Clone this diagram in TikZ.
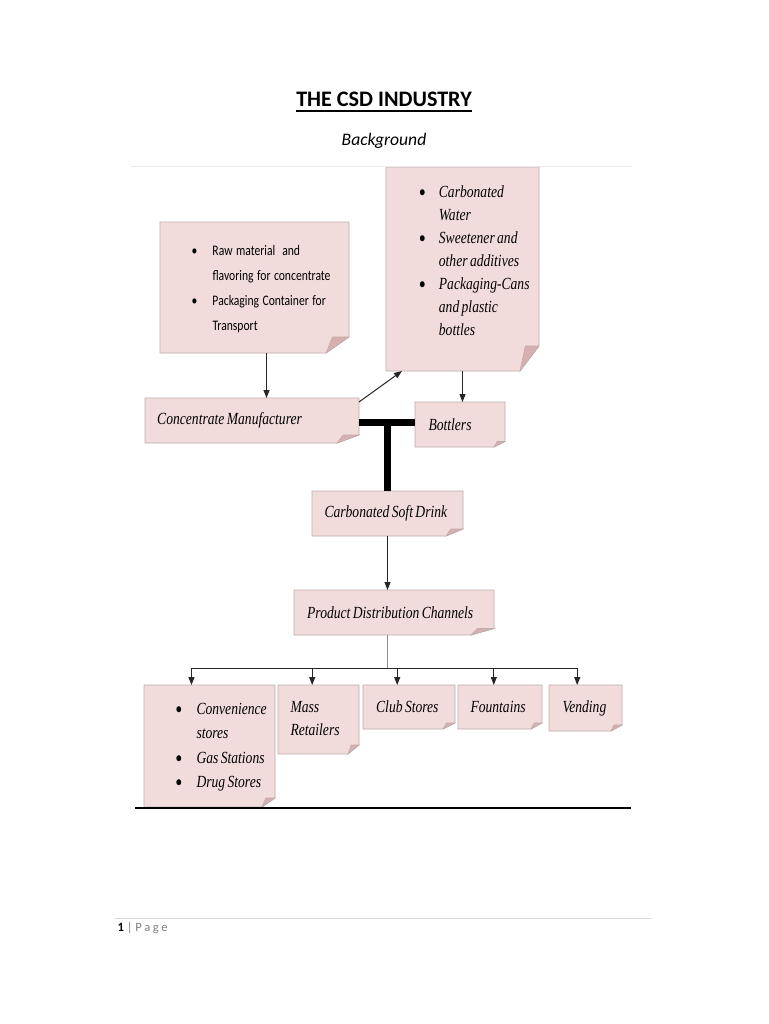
\documentclass[tikz,border=0pt]{standalone}
\usepackage{fontspec}
\setmainfont{Carlito}
\newfontfamily\notesans[FakeStretch=0.8]{Carlito}
\newfontfamily\noteserif[FakeStretch=0.8]{Liberation Serif}
\usetikzlibrary{arrows.meta,calc,backgrounds}

\definecolor{notefill}{RGB}{242,220,219}
\definecolor{notefold}{RGB}{214,176,176}
\definecolor{noteline}{RGB}{190,172,172}
\definecolor{pagegray}{RGB}{128,128,128}

\newcommand{\bul}{\makebox[6pt]{\notesans\textbullet}}
\newcommand{\notegap}[2][1.8pt]{\noindent\spaceskip=#1 plus 0.5pt\relax\hspace*{#2}}

\tikzset{every picture/.style={line width=0.75pt}}
\tikzset{
  note/.style={anchor=north west, inner sep=0pt, text width=#1},
  sanstext/.style={font={\notesans\fontsize{10.9}{#1}\selectfont}},
  sanstext/.default=18.75,
  seriftext/.style={font={\noteserif\itshape\fontsize{12.75}{#1}\selectfont}},
  seriftext/.default=17.5,
  notebody/.style={draw=noteline, fill=notefill, line width=0.6pt},
  notecurl/.style={draw=noteline, fill=notefold, line width=0.4pt},
  link/.style={draw=black!85, -{Triangle[length=6pt,width=4.5pt]}},
  bar/.style={draw=black, line width=5.25pt},
}

\begin{document}
\begin{tikzpicture}[x=0.75pt,y=0.75pt,yscale=-1,xscale=1]
\useasboundingbox (0,0) rectangle (768,1024);

% Title
\node[inner sep=0pt, anchor=base, font={\bfseries\fontsize{16.6}{20}\selectfont}] (title) at (384,106) {THE CSD INDUSTRY};
\draw[line width=1.4pt] ($(title.south west)+(0,4.7)$) -- ($(title.south east)+(0,4.7)$);
\node[inner sep=0pt, font={\itshape\fontsize{13.2}{16}\selectfont}] (subtitle) at (384,141) {Background};
\draw[black!8, line width=0.6pt] (131,166) -- (632,166);

% Inputs
\node[note=141pt, minimum height=97.5pt, sanstext] (raw) at (160,222) {\notegap[2.6pt]{22.5pt}\begin{tabular}{@{}l@{\hspace{10.5pt}}l@{}}
  \bul & Raw material\ \ and\\
       & flavoring for concentrate\\
  \bul & Packaging Container for\\
       & Transport
  \end{tabular}};
\node[note=114pt, minimum height=152.25pt, seriftext=17.25] (water) at (386,167) {\notegap{23.8pt}\begin{tabular}{@{}l@{\hspace{9.5pt}}l@{}}
  \bul & Carbonated\\
       & Water\\
  \bul & Sweetener and\\
       & other additives\\
  \bul & Packaging-Cans\\
       & and plastic\\
       & bottles\\[11pt]
  \end{tabular}};

% Makers
\node[note=159.75pt, minimum height=33pt, seriftext] (conc) at (145,398) {\notegap{8.8pt}Concentrate Manufacturer};
\node[note=66.75pt, minimum height=33pt, seriftext] (bott) at (415,402) {\notegap{9.75pt}Bottlers};
\node[note=112.5pt, minimum height=33pt, seriftext] (csd) at (312,491) {\notegap{9pt}Carbonated Soft Drink};
\node[note=149.25pt, minimum height=33pt, seriftext] (pdc) at (294,590) {\notegap{9.5pt}Product Distribution Channels};

% Channels
\node[note=97.5pt, minimum height=90.75pt, seriftext=18.4] (conv) at (144,685) {\notegap{22.7pt}\begin{tabular}{@{}l@{\hspace{10.3pt}}l@{}}
  \bul & Convenience\\
       & stores\\
  \bul & Gas Stations\\
  \bul & Drug Stores
  \end{tabular}};
\node[note=60pt, minimum height=51pt, seriftext] (mass) at (278,685) {\notegap{9pt}\begin{tabular}{@{}l@{}}Mass\\ Retailers\end{tabular}};
\node[note=68.25pt, minimum height=32.25pt, seriftext] (club) at (363,685) {\notegap{9.5pt}Club Stores};
\node[note=62.25pt, minimum height=32.25pt, seriftext] (foun) at (458,685) {\notegap{9pt}Fountains};
\node[note=54pt, minimum height=33.75pt, seriftext] (vend) at (549,685) {\notegap{9.75pt}Vending};

% Folded notes
\begin{scope}[on background layer]
\fill[white] (0,0) rectangle (768,1024);
\foreach \n/\fw/\fh in {raw/23/16, water/19/25, conc/22/8, bott/11/5.5, csd/17/7, pdc/23/6.5,
                        conv/13/9, mass/11/9, club/12/6, foun/11/6, vend/11/6} {
  \draw[notebody] (\n.north west) -- (\n.north east) -- ($(\n.south east)+(0,-\fh)$)
    -- ($(\n.south east)+(-\fw,0)$) -- (\n.south west) -- cycle;
  \draw[notecurl] ($(\n.south east)+(-\fw,0)$) .. controls ($(\n.south east)+(-0.88*\fw,-0.5*\fh)$)
    .. ($(\n.south east)+(-0.72*\fw,-\fh)$) -- ($(\n.south east)+(0,-\fh)$) -- cycle;
}
\end{scope}

% Connectors
\draw[link] ($(raw.south)+(12,0)$) coordinate (rawout) -- (rawout |- conc.north);
\draw[link] ($(conc.north east)+(0,4)$) -- ($(water.south west)+(16,0)$);
\draw[link] (water.south) -- (water.south |- bott.north);
\draw[bar] ($(conc.east)+(0,2)$) -- ($(bott.west)+(0,-2)$);
\draw[bar] (csd.north) -- (csd.north |- conc.east);
\draw[link] (csd.south) -- (csd.south |- pdc.north);
\draw[black!45] (csd.south |- pdc.south) -- ++(0,33) coordinate (hub);
\foreach \n/\dx in {conv/-18, mass/-6.3, club/-11.8, foun/-6.2, vend/-8.3} {
  \coordinate (\n-in) at ($(\n.north)+(\dx,0)$);
  \draw[link] (hub -| \n-in) -- (\n-in);
}
\draw[black!85] (hub -| conv-in) -- (hub -| vend-in);

% Rules and folio
\draw[black, line width=1.5pt] (135,807.5) -- (631,807.5);
\draw[black!15, line width=0.75pt] (115,918) -- (651,918);
\node[anchor=west, inner sep=0pt, font={\fontsize{9.5}{12}\selectfont}] (folio) at (117,928) {\textbf{1} {\color{pagegray}| \addfontfeature{LetterSpace=20}Page}};

\end{tikzpicture}
\end{document}
